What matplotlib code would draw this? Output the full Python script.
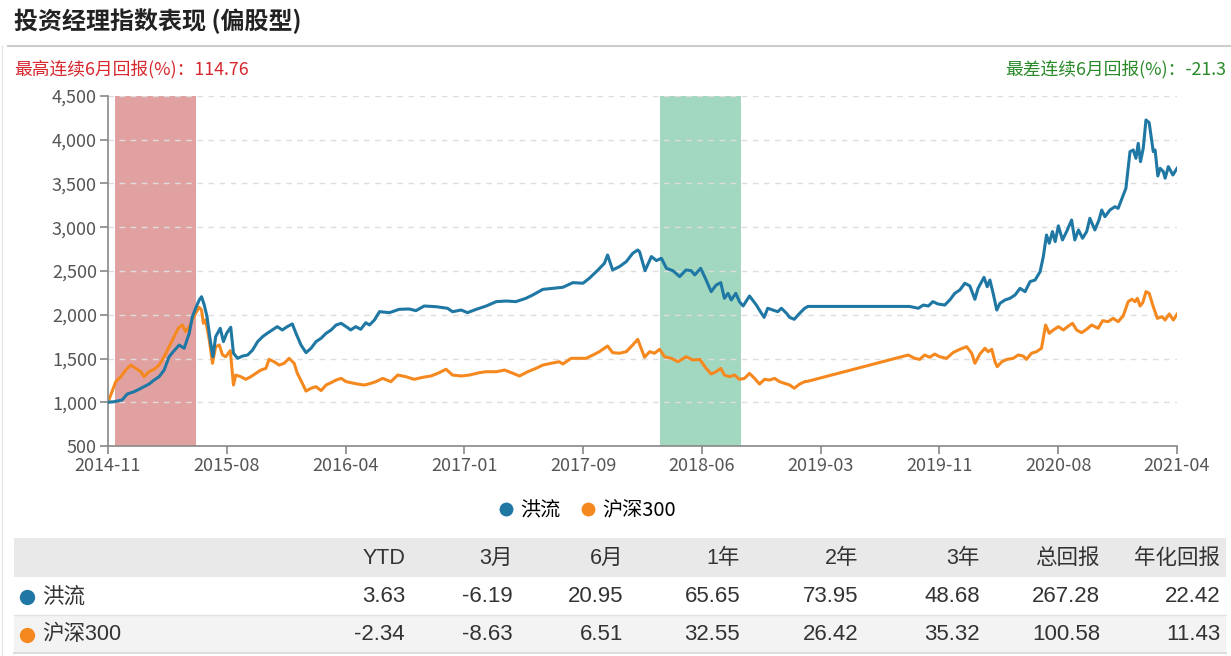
import pandas as pd
import numpy as np
import matplotlib
matplotlib.use('Agg')
import matplotlib.pyplot as plt
from matplotlib.patches import Rectangle
from matplotlib.lines import Line2D
from matplotlib.ticker import FuncFormatter

plt.rcParams['font.family'] = ['Noto Sans CJK SC', 'DejaVu Sans']

# ---- data (days since 2014-11-22, index value) ----
start_date = '2014-11-22'
end_days = 2343

hl_days = [0, 13, 31, 42, 57, 68, 79, 90, 101, 112, 123, 134, 145, 156, 167, 178, 185, 192,
           200, 205, 211, 217, 224, 230, 236, 246, 253, 260, 269, 275, 284, 295, 306, 317,
           328, 339, 349, 360, 371, 382, 393, 404, 412, 423, 434, 445, 456, 467, 478, 489,
           500, 511, 522, 532, 543, 554, 565, 573, 584, 595, 617, 638, 660, 675, 693, 719,
           744, 755, 774, 788, 807, 829, 851, 873, 894, 916, 931, 953, 975, 997, 1019, 1041,
           1055, 1074, 1088, 1095, 1106, 1121, 1136, 1150, 1161, 1165, 1177, 1191, 1202, 1213,
           1224, 1238, 1253, 1267, 1278, 1286, 1299, 1311, 1322, 1333, 1343, 1351, 1359, 1366,
           1376, 1384, 1392, 1406, 1421, 1430, 1438, 1446, 1457, 1468, 1476, 1487, 1494, 1504,
           1516, 1527, 1534, 1757, 1776, 1787, 1798, 1808, 1819, 1834, 1845, 1856, 1867, 1878,
           1889, 1900, 1907, 1920, 1927, 1933, 1940, 1948, 1955, 1966, 1977, 1988, 1999, 2010,
           2021, 2032, 2043, 2050, 2057, 2063, 2070, 2076, 2083, 2092, 2101, 2112, 2119, 2127,
           2136, 2145, 2152, 2163, 2172, 2178, 2185, 2196, 2207, 2214, 2224, 2231, 2240, 2247,
           2253, 2258, 2263, 2269, 2275, 2282, 2291, 2295, 2301, 2306, 2313, 2317, 2324, 2334,
           2343]
hl_values = [1000, 1006, 1026, 1094, 1120, 1148, 1178, 1208, 1254, 1292, 1368, 1520, 1590, 1654,
             1617, 1788, 1978, 2074, 2169, 2206, 2111, 1978, 1711, 1520, 1750, 1845, 1693, 1788,
             1857, 1560, 1502, 1528, 1540, 1597, 1693, 1750, 1788, 1826, 1864, 1826, 1864, 1895,
             1788, 1654, 1567, 1617, 1693, 1731, 1788, 1826, 1883, 1902, 1864, 1826, 1864, 1834,
             1909, 1883, 1940, 2035, 2024, 2062, 2066, 2047, 2100, 2092, 2074, 2035, 2054, 2024,
             2062, 2100, 2150, 2157, 2150, 2188, 2226, 2290, 2302, 2314, 2367, 2360, 2417, 2512,
             2588, 2683, 2512, 2550, 2607, 2702, 2740, 2721, 2504, 2665, 2619, 2645, 2531, 2504,
             2436, 2512, 2504, 2455, 2531, 2397, 2264, 2340, 2367, 2188, 2245, 2169, 2245, 2150,
             2100, 2214, 2111, 2035, 1970, 2074, 2054, 2035, 2074, 2017, 1970, 1948, 2017, 2074,
             2095, 2095, 2074, 2111, 2100, 2150, 2123, 2111, 2169, 2245, 2283, 2360, 2329, 2177,
             2302, 2428, 2321, 2397, 2245, 2054, 2131, 2169, 2188, 2226, 2302, 2264, 2379, 2397,
             2493, 2665, 2912, 2817, 2950, 2836, 3016, 2855, 2950, 3083, 2855, 2969, 2874, 2950,
             3102, 2969, 3083, 3197, 3121, 3197, 3235, 3216, 3349, 3445, 3864, 3883, 3788, 3959,
             3750, 3902, 4226, 4195, 3864, 3883, 3586, 3674, 3636, 3560, 3693, 3597, 3673]

hs_days = [0, 6, 17, 28, 39, 50, 61, 72, 79, 90, 101, 112, 123, 134, 145, 154, 163, 170, 178,
           185, 192, 200, 205, 209, 214, 222, 229, 236, 244, 251, 258, 268, 275, 280, 291, 302,
           313, 324, 335, 346, 353, 364, 375, 386, 397, 408, 415, 426, 434, 445, 456, 467, 478,
           489, 500, 511, 522, 532, 547, 562, 576, 587, 602, 620, 635, 653, 671, 690, 708, 726,
           741, 755, 774, 792, 814, 829, 851, 869, 884, 902, 920, 938, 953, 971, 989, 997, 1015,
           1033, 1048, 1063, 1077, 1095, 1106, 1121, 1136, 1150, 1161, 1176, 1187, 1198, 1209,
           1220, 1235, 1249, 1267, 1282, 1297, 1311, 1322, 1333, 1343, 1351, 1362, 1373, 1384,
           1395, 1406, 1417, 1428, 1439, 1450, 1461, 1472, 1483, 1494, 1504, 1516, 1527, 1534,
           1754, 1768, 1779, 1790, 1801, 1812, 1823, 1838, 1852, 1867, 1882, 1893, 1900, 1911,
           1922, 1929, 1937, 1944, 1949, 1959, 1970, 1984, 1995, 2006, 2013, 2024, 2035, 2046,
           2055, 2063, 2072, 2083, 2094, 2105, 2114, 2123, 2134, 2145, 2156, 2170, 2180, 2192,
           2203, 2214, 2225, 2236, 2244, 2251, 2256, 2262, 2268, 2275, 2282, 2291, 2300, 2310,
           2317, 2326, 2335, 2343]
hs_values = [1000, 1083, 1235, 1292, 1368, 1425, 1387, 1349, 1292, 1349, 1377, 1425, 1520, 1635,
             1750, 1845, 1883, 1807, 1864, 1940, 2017, 2085, 2054, 1902, 1940, 1711, 1445, 1635,
             1654, 1540, 1520, 1590, 1197, 1311, 1292, 1262, 1292, 1330, 1368, 1387, 1490, 1463,
             1425, 1445, 1502, 1445, 1330, 1216, 1128, 1160, 1178, 1133, 1197, 1224, 1254, 1273,
             1235, 1224, 1208, 1197, 1216, 1235, 1273, 1235, 1311, 1292, 1262, 1285, 1300, 1338,
             1377, 1311, 1300, 1311, 1338, 1349, 1349, 1368, 1338, 1300, 1349, 1387, 1425, 1445,
             1463, 1437, 1502, 1502, 1502, 1540, 1578, 1643, 1567, 1560, 1578, 1654, 1719, 1514,
             1578, 1560, 1605, 1520, 1502, 1463, 1520, 1483, 1490, 1387, 1323, 1349, 1387, 1311,
             1292, 1311, 1262, 1273, 1330, 1273, 1208, 1262, 1254, 1273, 1235, 1216, 1197, 1160,
             1208, 1235, 1240, 1540, 1502, 1490, 1540, 1514, 1551, 1520, 1502, 1567, 1605, 1635,
             1560, 1445, 1551, 1617, 1578, 1605, 1463, 1406, 1463, 1490, 1502, 1540, 1528, 1490,
             1560, 1578, 1617, 1883, 1788, 1826, 1864, 1826, 1871, 1902, 1826, 1795, 1834, 1883,
             1845, 1932, 1921, 1959, 1921, 1986, 2150, 2177, 2150, 2188, 2100, 2138, 2264, 2245,
             2092, 1959, 1978, 1940, 2009, 1940, 2006]

best_period = ('2014-12-07', '2015-06-03')
worst_period = ('2018-03-15', '2018-09-09')

series_names = ['洪流', '沪深300']
table_cols = ['YTD', '3月', '6月', '1年', '2年', '3年', '总回报', '年化回报']
hl_table = ['3.63', '-6.19', '20.95', '65.65', '73.95', '48.68', '267.28', '22.42']
hs_table = ['-2.34', '-8.63', '6.51', '32.55', '26.42', '35.32', '100.58', '11.43']

blue = '#1f77a4'
orange = '#f5891f'

W, H = 1231, 656


def fx(x):
    return x / W


def fy(y):
    return 1 - y / H


fig = plt.figure(figsize=(W / 100, H / 100), dpi=100)

# title
fig.text(fx(14), fy(21), '投资经理指数表现 (偏股型)', fontsize=17.3, fontweight='bold',
         color='#222222', va='center', ha='left')
fig.add_artist(Line2D([fx(8), 1], [fy(46), fy(46)], color='#cccccc', lw=1.5))
fig.add_artist(Line2D([fx(2), fx(2)], [fy(46), 0], color='#e6e6e6', lw=1))

fig.text(fx(14), fy(69), '最高连续6月回报(%)：114.76', fontsize=12.8, color='#d7282f',
         va='center', ha='left')
fig.text(fx(1226), fy(69), '最差连续6月回报(%)：-21.3', fontsize=12.8, color='#2a8a2a',
         va='center', ha='right')

# chart
ax = fig.add_axes([fx(108), fy(446), fx(1177 - 108), (446 - 96) / H])
start = pd.Timestamp(start_date)
hl_x = start + pd.to_timedelta(hl_days, unit='D')
hs_x = start + pd.to_timedelta(hs_days, unit='D')
end = start + pd.Timedelta(days=end_days)

ax.axvspan(pd.Timestamp(best_period[0]), pd.Timestamp(best_period[1]), color='#e2a1a1', lw=0, zorder=1)
ax.axvspan(pd.Timestamp(worst_period[0]), pd.Timestamp(worst_period[1]), color='#a3d8c0', lw=0, zorder=1)

ax.plot(hl_x, hl_values, color=blue, lw=2.2, zorder=3)
ax.plot(hs_x, hs_values, color=orange, lw=2.2, zorder=2)

ax.set_xlim(start, end)
ax.set_ylim(500, 4500)
ax.set_yticks(np.arange(500, 4501, 500))
ax.yaxis.set_major_formatter(FuncFormatter(lambda v, p: f'{v:,.0f}'))
ticks = pd.to_datetime(np.linspace(start.value, end.value, 10))
ax.set_xticks(ticks)
ax.set_xticklabels([t.strftime('%Y-%m') for t in ticks])

ax.grid(axis='y', color='#dddddd', linestyle=(0, (4, 4)), lw=1, zorder=0)
for s in ['top', 'right']:
    ax.spines[s].set_visible(False)
for s in ['left', 'bottom']:
    ax.spines[s].set_color('#888888')
    ax.spines[s].set_linewidth(1.2)
ax.tick_params(axis='both', colors='#888888', labelcolor='#555555', labelsize=13, length=6, width=1.2)
ax.tick_params(axis='x', pad=2)
ax.tick_params(axis='y', pad=2)

# legend
handles = [Line2D([], [], marker='o', color='w', markerfacecolor=blue, markersize=11, lw=0),
           Line2D([], [], marker='o', color='w', markerfacecolor=orange, markersize=11, lw=0)]
fig.legend(handles, series_names, loc='center', bbox_to_anchor=(fx(586), fy(511)), ncol=2,
           frameon=False, fontsize=14.5, handletextpad=0.2, columnspacing=0.9, handlelength=1.0)

# table
fig.add_artist(Rectangle((fx(14), fy(577)), fx(1226 - 14), (577 - 538) / H, color='#e9e9e9', lw=0))
fig.add_artist(Rectangle((fx(14), fy(653)), fx(1226 - 14), (653 - 615) / H, color='#f3f3f3', lw=0))
fig.add_artist(Line2D([fx(14), fx(1226)], [fy(615), fy(615)], color='#e2e2e2', lw=1))
fig.add_artist(Line2D([fx(14), fx(1226)], [fy(653), fy(653)], color='#dddddd', lw=1.5))

tfont = ['Liberation Sans', 'Noto Sans CJK SC']
col_right = [405, 513, 623, 740, 858, 980, 1100, 1220]
for i, c in enumerate(table_cols):
    fig.text(fx(col_right[i]), fy(558), c, ha='right', va='center', fontsize=15.5,
             color='#333333', family=tfont)
    fig.text(fx(col_right[i]), fy(597), hl_table[i], ha='right', va='center', fontsize=16,
             color='#333333', family=tfont)
    fig.text(fx(col_right[i]), fy(635), hs_table[i], ha='right', va='center', fontsize=16,
             color='#333333', family=tfont)

for row_y, name, col in [(597, series_names[0], blue), (635, series_names[1], orange)]:
    fig.add_artist(Line2D([fx(27)], [fy(row_y)], marker='o', markersize=10, color=col, lw=0))
    fig.text(fx(42), fy(row_y), name, ha='left', va='center', fontsize=15.5, color='#333333',
             family=tfont)

fig.savefig('out.png', dpi=100)
